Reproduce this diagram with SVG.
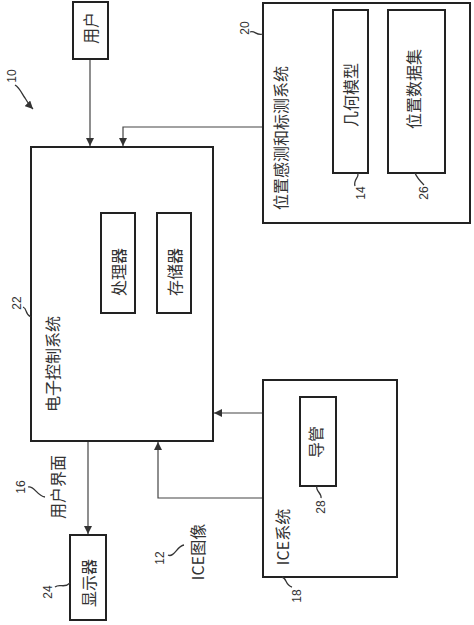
<svg xmlns="http://www.w3.org/2000/svg" width="474" height="625" viewBox="0 0 474 625">
<style>
.box{fill:#fff;stroke:#222;stroke-width:2}
.in{fill:#fff;stroke:#222;stroke-width:2}
.ln{fill:none;stroke:#444;stroke-width:1.2}
.ld{fill:none;stroke:#333;stroke-width:1.3}
.t{font-family:"Noto Sans CJK SC","Noto Sans",sans-serif;font-size:16px;fill:#333;text-anchor:middle;dominant-baseline:central}
.n{font-family:"Liberation Sans",sans-serif;font-size:12px;fill:#333;text-anchor:middle;dominant-baseline:central}
</style>
<defs>
<marker id="ah" viewBox="0 0 10 10" refX="10" refY="5" markerWidth="8" markerHeight="8" markerUnits="userSpaceOnUse" orient="auto">
<path d="M0,0 L10,5 L0,10 Z" fill="#333"/>
</marker>
</defs>
<rect width="474" height="625" fill="#fff"/>
<g id="connectors">
<line class="ln" x1="90" y1="59" x2="90" y2="146" marker-end="url(#ah)"/>
<polyline class="ln" points="263,127 123,127 123,146" marker-end="url(#ah)"/>
<line class="ln" x1="263" y1="413" x2="214" y2="413" marker-end="url(#ah)"/>
<polyline class="ln" points="263,498 158,498 158,442" marker-end="url(#ah)"/>
<line class="ln" x1="88" y1="441" x2="88" y2="534" marker-end="url(#ah)"/>
</g>
<g id="user">
<rect class="box" x="73" y="2" width="35" height="57"/>
<text class="t" transform="translate(90,28) rotate(-90)">用户</text>
</g>
<g id="label10">
<text class="n" transform="translate(12,76) rotate(-90)">10</text>
<path class="ld" d="M15,85 C20,88 22,94 25,98 C28,103 30,106 33,109" marker-end="url(#ah)"/>
</g>
<g id="ecs">
<rect class="box" x="31" y="147" width="182" height="294"/>
<text class="t" transform="translate(52,364) rotate(-90)">电子控制系统</text>
<text class="n" transform="translate(17,303) rotate(-90)">22</text>
<path class="ld" d="M23,307 C28,309 24,314 31,317"/>
</g>
<g id="processor">
<rect class="in" x="101" y="213" width="34" height="100"/>
<text class="t" transform="translate(118,272) rotate(-90)">处理器</text>
</g>
<g id="memory">
<rect class="in" x="157" y="213" width="34" height="100"/>
<text class="t" transform="translate(174,272) rotate(-90)">存储器</text>
</g>
<g id="pos">
<rect class="box" x="263" y="3" width="207" height="220"/>
<text class="t" transform="translate(280,138) rotate(-90)">位置感测和标测系统</text>
<text class="n" transform="translate(245,28) rotate(-90)">20</text>
<path class="ld" d="M250,32 C255,30 256,36 263,34"/>
</g>
<g id="geom">
<rect class="in" x="333" y="10" width="35" height="163"/>
<text class="t" transform="translate(350,95) rotate(-90)">几何模型</text>
<text class="n" transform="translate(361,193) rotate(-90)">14</text>
<path class="ld" d="M358,173 C359,178 353,180 355,186"/>
</g>
<g id="posdata">
<rect class="in" x="388" y="10" width="57" height="163"/>
<text class="t" transform="translate(413,89) rotate(-90)">位置数据集</text>
<text class="n" transform="translate(424,193) rotate(-90)">26</text>
<path class="ld" d="M415,173 C417,178 420,181 424,185"/>
</g>
<g id="ice">
<rect class="box" x="263" y="380" width="134" height="197"/>
<text class="t" transform="translate(282,537) rotate(-90)">ICE系统</text>
<text class="n" transform="translate(297,596) rotate(-90)">18</text>
<path class="ld" d="M282,577 C287,578 285,585 292,587"/>
</g>
<g id="catheter">
<rect class="in" x="300" y="397" width="36" height="89"/>
<text class="t" transform="translate(315,442) rotate(-90)">导管</text>
<text class="n" transform="translate(321,507) rotate(-90)">28</text>
<path class="ld" d="M317,486 C315,491 322,493 321,498"/>
</g>
<g id="display">
<rect class="box" x="70" y="535" width="36" height="85"/>
<text class="t" transform="translate(88,583) rotate(-90)">显示器</text>
<text class="n" transform="translate(48,592) rotate(-90)">24</text>
<path class="ld" d="M55,587 C60,583 64,589 70,583"/>
</g>
<g id="ui">
<text class="t" transform="translate(57,487) rotate(-90)">用户界面</text>
<text class="n" transform="translate(21,487) rotate(-90)">16</text>
<path class="ld" d="M28,487 C34,485 37,496 45,497"/>
</g>
<g id="iceimg">
<text class="t" transform="translate(197,552) rotate(-90)">ICE图像</text>
<text class="n" transform="translate(160,558) rotate(-90)">12</text>
<path class="ld" d="M168,555 C174,558 177,546 184,545"/>
</g>
</svg>
